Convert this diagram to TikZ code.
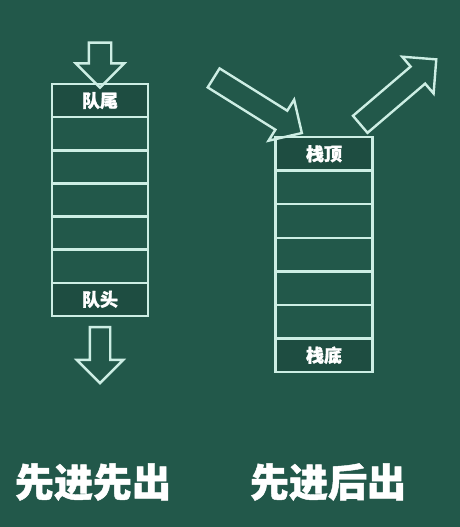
\documentclass[tikz,border=0pt]{standalone}
\usepackage{fontspec}
\usepackage{tikz}
\usetikzlibrary{shapes.arrows}
\newfontfamily\cjk[BoldFeatures={FakeBold=1.2}]{Noto Sans CJK SC}
\definecolor{board}{RGB}{34,88,74}
\definecolor{chalk}{RGB}{205,238,228}

\begin{document}
\begin{tikzpicture}[x=1pt, y=-1pt, line width=2.4pt,
		cell_style/.style={draw=chalk, minimum width=96pt, minimum height=33.1pt, inner sep=0pt, text=white, font=\cjk\bfseries\fontsize{18}{18}\selectfont},
		stack_style/.style={cell_style, minimum width=97pt, minimum height=33.6pt},
		label_style/.style={fill=board!88!black},
		arrow_style/.style={single arrow, draw=chalk, inner sep=10pt, single arrow head extend=13pt, single arrow head indent=0pt, anchor=center},
		title_style/.style={text=white, font=\cjk\bfseries\fontsize{39}{39}\selectfont}]

		\useasboundingbox[fill=board] (0,0) rectangle (460,527);

		% queue
		\node[cell_style, label_style] (q1) at (100,100.6) {队尾};
		\node[cell_style] (q2) at (100,133.7) {};
		\node[cell_style] (q3) at (100,166.9) {};
		\node[cell_style] (q4) at (100,200.0) {};
		\node[cell_style] (q5) at (100,233.1) {};
		\node[cell_style] (q6) at (100,266.3) {};
		\node[cell_style, label_style] (q7) at (100,299.4) {队头};

		\node[arrow_style, rotate=-90, minimum height=45pt] (qin) at (100,59.5) {};
		\node[arrow_style, rotate=-90, minimum height=56pt, inner sep=9pt] (qout) at (100,350) {};

		% stack
		\node[stack_style, label_style] (s1) at (324,153.8) {栈顶};
		\node[stack_style] (s2) at (324,187.4) {};
		\node[stack_style] (s3) at (324,220.9) {};
		\node[stack_style] (s4) at (324,254.5) {};
		\node[stack_style] (s5) at (324,288.1) {};
		\node[stack_style] (s6) at (324,321.6) {};
		\node[stack_style, label_style] (s7) at (324,355.2) {栈底};

		\node[arrow_style, rotate=-32, minimum height=104pt] (sin) at (253,102.5) {};
		\node[arrow_style, rotate=40.5, minimum height=100pt] (sout) at (394,95.5) {};

		% captions
		\node[title_style] (fifo) at (93,482) {先进先出};
		\node[title_style] (lifo) at (328,482) {先进后出};
\end{tikzpicture}
\end{document}
